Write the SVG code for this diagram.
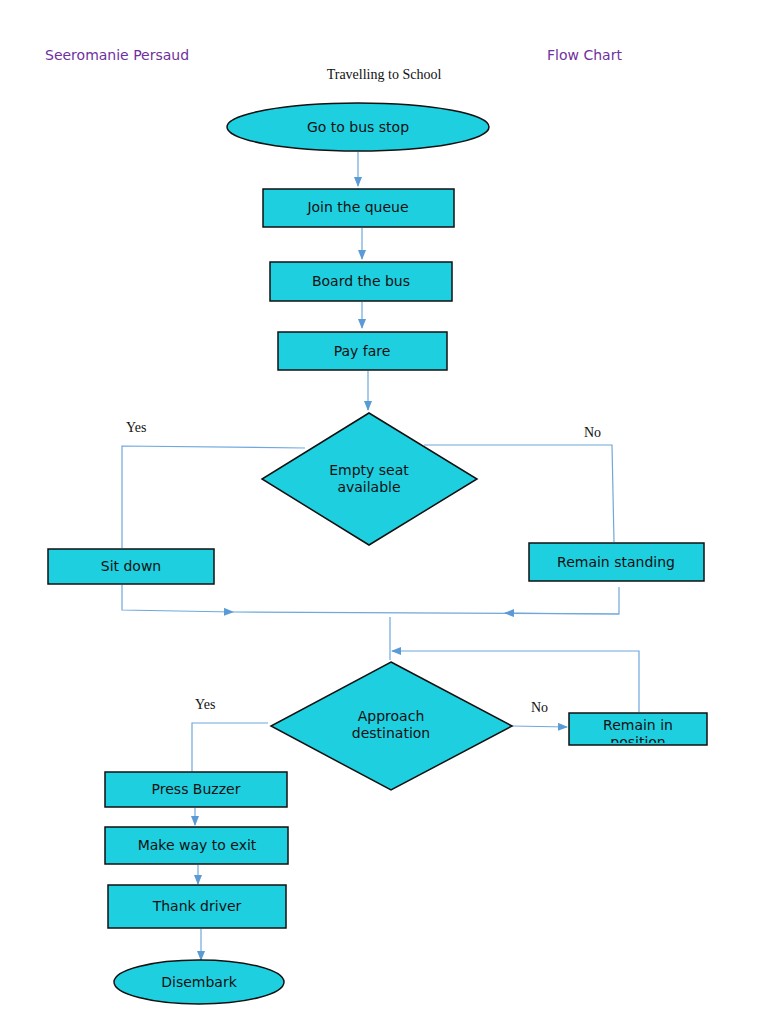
<svg xmlns="http://www.w3.org/2000/svg" width="768" height="1024" viewBox="0 0 768 1024">
<style>
.n{fill:#1ecfe0;stroke:#111;stroke-width:1.5}
.t{font-family:"DejaVu Sans",sans-serif;font-size:14px;fill:#111;text-anchor:middle}
.h{font-family:"DejaVu Sans",sans-serif;font-size:14px;fill:#7030a0}
.s{font-family:"Liberation Serif",serif;font-size:14px;fill:#111}
.c{fill:none;stroke:#6fa8dc;stroke-width:1.2}
</style>
<defs>
<marker id="a" markerWidth="10" markerHeight="8" refX="9" refY="4" orient="auto" markerUnits="userSpaceOnUse"><path d="M0,0L10,4L0,8z" fill="#5b9bd5"/></marker>
<clipPath id="cp"><rect x="570" y="714" width="136" height="29"/></clipPath>
</defs>
<rect width="768" height="1024" fill="#fff"/>
<text class="h" x="45" y="60">Seeromanie Persaud</text>
<text class="h" x="547" y="60">Flow Chart</text>
<text class="s" x="384" y="79" text-anchor="middle">Travelling to School</text>
<g id="connectors">
<path class="c" d="M358,152V186" marker-end="url(#a)"/>
<path class="c" d="M362,228V259" marker-end="url(#a)"/>
<path class="c" d="M362,302V328" marker-end="url(#a)"/>
<path class="c" d="M368,371V410" marker-end="url(#a)"/>
<path class="c" d="M305,448L122,446V548"/>
<path class="c" d="M424,445L612,445L614,542"/>
<path class="c" d="M122,585V610L233,612" marker-end="url(#a)"/>
<path class="c" d="M233,612L619,614V587"/>
<path class="c" d="M619,614L505,613" marker-end="url(#a)"/>
<path class="c" d="M390,617V660"/>
<path class="c" d="M639,712V651H392" marker-end="url(#a)"/>
<path class="c" d="M512,726L567,727" marker-end="url(#a)"/>
<path class="c" d="M268,723L192,723V771"/>
<path class="c" d="M195,808V825" marker-end="url(#a)"/>
<path class="c" d="M198,865V884" marker-end="url(#a)"/>
<path class="c" d="M201,929V960" marker-end="url(#a)"/>
</g>
<text class="s" x="126" y="432">Yes</text>
<text class="s" x="584" y="437">No</text>
<text class="s" x="195" y="709">Yes</text>
<text class="s" x="531" y="712">No</text>
<g id="n1"><ellipse class="n" cx="358" cy="127" rx="131" ry="24"/><text class="t" x="358" y="132">Go to bus stop</text></g>
<g id="n2"><rect class="n" x="263" y="189" width="191" height="38"/><text class="t" x="358" y="212">Join the queue</text></g>
<g id="n3"><rect class="n" x="270" y="262" width="182" height="39"/><text class="t" x="361" y="286">Board the bus</text></g>
<g id="n4"><rect class="n" x="278" y="332" width="169" height="38"/><text class="t" x="362" y="356">Pay fare</text></g>
<g id="n5"><polygon class="n" points="369,413 477,479 369,545 262,479"/><text class="t" x="369" y="475">Empty seat</text><text class="t" x="369" y="492">available</text></g>
<g id="n6"><rect class="n" x="48" y="549" width="166" height="35"/><text class="t" x="131" y="571">Sit down</text></g>
<g id="n7"><rect class="n" x="529" y="543" width="175" height="38"/><text class="t" x="616" y="567">Remain standing</text></g>
<g id="n8"><polygon class="n" points="391,662 512,726 391,790 271,726"/><text class="t" x="391" y="721">Approach</text><text class="t" x="391" y="738">destination</text></g>
<g id="n9"><rect class="n" x="569" y="713" width="138" height="32"/><g clip-path="url(#cp)"><text class="t" x="638" y="730">Remain in</text><text class="t" x="638" y="747">position</text></g></g>
<g id="n10"><rect class="n" x="105" y="772" width="182" height="35"/><text class="t" x="196" y="794">Press Buzzer</text></g>
<g id="n11"><rect class="n" x="105" y="827" width="183" height="37"/><text class="t" x="197" y="850">Make way to exit</text></g>
<g id="n12"><rect class="n" x="108" y="885" width="178" height="43"/><text class="t" x="197" y="911">Thank driver</text></g>
<g id="n13"><ellipse class="n" cx="199" cy="982" rx="85" ry="22"/><text class="t" x="199" y="987">Disembark</text></g>
</svg>
